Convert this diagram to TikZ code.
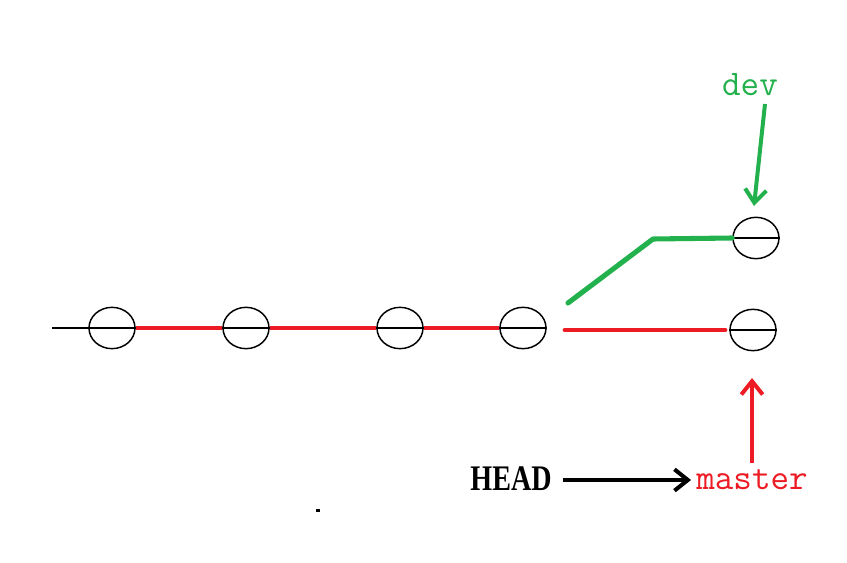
\documentclass[tikz,border=0pt]{standalone}
\usepackage{fontspec}
\setmainfont{Liberation Serif}
\usetikzlibrary{shapes.geometric,arrows.meta}
\definecolor{pred}{RGB}{237,28,36}
\definecolor{pgreen}{RGB}{34,177,76}
\tikzset{
  commit/.style={ellipse,draw=black,line width=1.1pt,minimum width=34.5pt,minimum height=31pt,inner sep=0pt},
  inner/.style={draw=black,line width=1.3pt},
  redline/.style={draw=pred,line width=3.6pt},
  greenline/.style={draw=pgreen,line width=3.8pt,line join=round},
  ptr/.style={line width=3pt,-{Straight Barb[length=10pt,width=16pt,line width=3pt]}},
  lbl/.style={inner sep=0pt,font=\ttfamily\fontsize{27}{27}\selectfont}
}
\begin{document}
\begin{tikzpicture}[x=0.75pt,y=-0.75pt]
\useasboundingbox (0,0) rectangle (847,563);
\fill[white] (0,0) rectangle (847,563);
% commits
\node[commit] (c1) at (112,328) {};
\node[commit] (c2) at (246,328) {};
\node[commit] (c3) at (400,328) {};
\node[commit] (c4) at (523,328) {};
\node[commit] (c5) at (753,330) {};
\node[commit] (c6) at (756,238) {};
\coordinate (tail) at (52,328);
\coordinate (m0) at (565,330);
\coordinate (m1) at (725,330);
\coordinate (g0) at (568,303);
\coordinate (g1) at (653,239);
% lines
\draw[inner] (tail) -- (c1.west);
\foreach \c in {c1,c2,c3,c4,c5,c6} \draw[inner] (\c.west) -- (\c.east);
\draw[redline,line width=3pt] (c1.east) -- (c2.west);
\draw[redline,line width=3pt] (c2.east) -- (c3.west);
\draw[redline,line width=3pt] (c3.east) -- (c4.west);
\draw[redline,line cap=round] (m0) -- (m1);
\draw[greenline,line cap=round] (g0) -- (g1) -- (c6.west);
% labels
\node[lbl,text=pgreen] (dev) at (750,85) {dev};
\node[inner sep=0pt,font=\bfseries\fontsize{27}{27}\selectfont] (head) at (511,479) {\scalebox{0.78}[1]{HEAD}};
\node[lbl,text=pred] (master) at (752,480) {master};
\coordinate (devtip) at (754,206);
\coordinate (devtail) at (765,104);
\coordinate (mtail) at (752,463);
\coordinate (mtip) at (752,378);
\coordinate (htail) at (563,480);
\coordinate (htip) at (691,480);
% pointers
\draw[ptr,pgreen] (devtail) -- (devtip);
\draw[ptr,pred] (mtail) -- (mtip);
\draw[ptr,black] (htail) -- (htip);
\fill[black] (316,509) rectangle (320,512);
\end{tikzpicture}
\end{document}
